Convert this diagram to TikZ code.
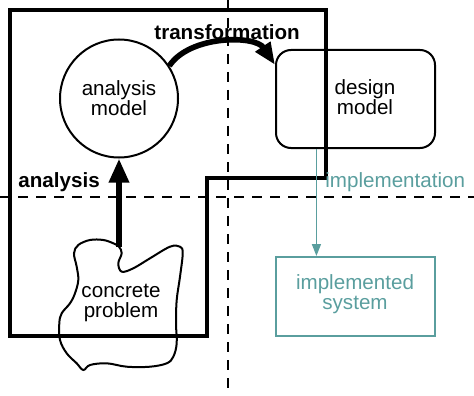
\documentclass[tikz,border=0pt]{standalone}
\usepackage{fontspec}
\setsansfont{Liberation Sans}
\usetikzlibrary{arrows.meta, positioning, calc}
\definecolor{implteal}{HTML}{5A9E9E}

\begin{document}
\begin{tikzpicture}[x=0.5pt, y=-0.5pt,
    font=\sffamily\fontsize{10.3}{10}\selectfont,
    modeltext/.style={align=center, inner sep=0pt},
    quadline/.style={line width=0.65pt, dash pattern=on 5pt off 4pt},
    bigarrow/.style={line width=3.3pt, -{Triangle[length=12pt, width=9.5pt]}},
    implarrow/.style={implteal, line width=0.8pt, -{Triangle[length=6pt, width=4.5pt]}}]
  \useasboundingbox (0,0) rectangle (474,395);
  % quadrants
  \draw[quadline] (0,197) -- (474,197);
  \draw[quadline] (228,0) -- (228,395);
  % problem space
  \draw[line width=1.7pt] (10,10) -- (326,10) -- (326,178) -- (207,178)
    -- (207,336) -- (10,336) -- cycle;
  % concrete problem
  \draw[line width=1pt] plot[smooth cycle, tension=0.6] coordinates {
    (119,246.7) (121.7,253.3) (118.3,263.3) (121.7,271.7) (133.3,268.3)
    (150,258.3) (170,246.7) (180,246.7) (182.7,253.3) (180,276.7)
    (176.7,300) (176,323.3) (176.7,343.3) (173.3,356.7) (166.7,363.3)
    (150,366.7) (126.7,366.7) (106.7,363.3) (90,365) (83.3,370)
    (76.7,363.3) (66.7,353.3) (60,340) (59.3,323.3) (61.7,313.3)
    (70,303.3) (75,293.3) (78.3,280) (76.7,266.7) (74,253.3)
    (78.3,245) (90,240) (103.3,240) (113.3,243.3)};
  \coordinate (cpTop) at (119,247);
  \node[modeltext] (cp) at (121,303) {concrete\\problem};
  % analysis model
  \node[draw, circle, line width=1pt, minimum size=59pt, modeltext] (am) at (119,98.5)
    {analysis\\model};
  % design model
  \node[draw, rounded corners=7.5pt, line width=1pt, minimum width=79.5pt,
    minimum height=49pt, inner sep=0pt] (dm) at (355.5,99) {};
  \node[modeltext] (dmText) at (365,97) {design\\model};
  % implemented system
  \node[draw=implteal, line width=1pt, minimum width=79.5pt, minimum height=39.5pt,
    inner sep=0pt] (is) at (355.5,296.5) {};
  \node[modeltext, implteal] (isText) at (355,294) {implemented\\system};
  % steps
  \draw[bigarrow] (cpTop) -- (am.south);
  \node[font=\sffamily\bfseries\fontsize{10.3}{10}\selectfont, anchor=base west,
    inner sep=0pt] (anaLabel) at (18,187.5) {analysis};
  \draw[line width=2.8pt, -{Triangle[length=11pt, width=8.5pt]}]
    (am.33) .. controls (190,35) and (255,35) .. (dm.157);
  \node[font=\sffamily\bfseries\fontsize{10.3}{10}\selectfont, anchor=base west,
    inner sep=0pt] (transLabel) at (154,39.5) {transformation};
  \draw[implarrow] (dm.232) -- (dm.232 |- is.north);
  \node[implteal, anchor=base west, inner sep=0pt] (implLabel) at (325,187) {implementation};
\end{tikzpicture}
\end{document}
